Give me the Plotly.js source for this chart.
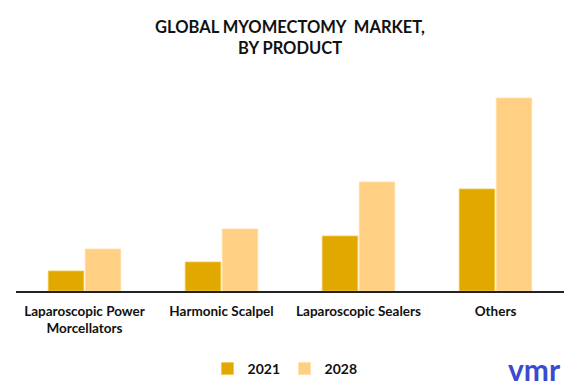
<!DOCTYPE html>
<html>
<head>
<meta charset="utf-8">
<script src="https://cdn.plot.ly/plotly-3.0.1.min.js"></script>
<style>html,body{margin:0;padding:0;background:#fff;}#chart{width:577px;height:391px;}</style>
</head>
<body>
<div id="chart"></div>
<script>
const categories = ["Laparoscopic Power<br>Morcellators", "Harmonic Scalpel", "Laparoscopic Sealers", "Others"];
const values2021 = [20, 29, 55, 102];
const values2028 = [42, 62, 109, 193];
const seriesNames = ["2021", "2028"];

const traces = [
  {type: "bar", x: categories, y: values2021, name: seriesNames[0],
   marker: {color: "#E1A900", line: {color: "#F0C64A", width: 0.8}}, hoverinfo: "none"},
  {type: "bar", x: categories, y: values2028, name: seriesNames[1],
   marker: {color: "#FFD083", line: {color: "#FFE0A8", width: 0.8}}, hoverinfo: "none"}
];

const layout = {
  width: 577, height: 391,
  margin: {l: 16, r: 13, t: 80, b: 100, autoexpand: false},
  paper_bgcolor: "#fff", plot_bgcolor: "#fff",
  title: {text: "<b>GLOBAL MYOMECTOMY  MARKET,<br>BY PRODUCT</b>",
          font: {family: "Lato, 'Open Sans', sans-serif", size: 16.5, color: "#111"},
          x: 0.5, xanchor: "center", xref: "paper", yref: "container", y: 1 - 32.5 / 391, yanchor: "middle"},
  barmode: "group", bargap: 0.46, bargroupgap: 0.04,
  xaxis: {showline: true, linecolor: "#222", linewidth: 1.5, ticks: "outside", ticklen: 7,
          tickcolor: "rgba(0,0,0,0)", showgrid: false, automargin: false,
          tickfont: {family: "Lato, sans-serif", size: 13.5, color: "#111", weight: "bold"},
          fixedrange: true},
  yaxis: {range: [0, 211], visible: false, showgrid: false, zeroline: false, fixedrange: true},
  showlegend: true,
  legend: {orientation: "h", x: 0.49, xanchor: "center", yref: "container", y: 22 / 391, yanchor: "middle",
           font: {family: "Lato, sans-serif", size: 14, color: "#111", weight: "bold"},
           itemwidth: 30, entrywidth: 32, traceorder: "normal"},
  annotations: [{text: "<b>vmr</b>", xref: "paper", yref: "paper", x: 0.998, y: -0.37,
                 xanchor: "right", yanchor: "middle", showarrow: false,
                 font: {family: "Lato, sans-serif", size: 30, color: "#3A4BD0"}}]
};

Plotly.newPlot("chart", traces, layout, {displayModeBar: false, staticPlot: true});
</script>
</body>
</html>
